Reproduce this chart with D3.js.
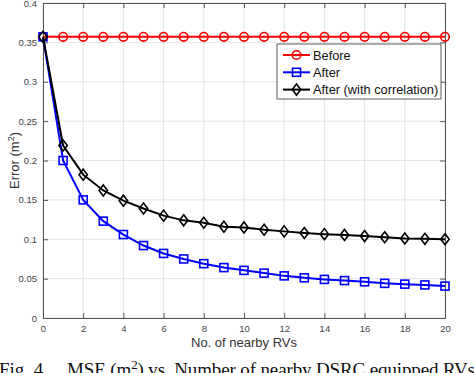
<!DOCTYPE html>
<html>
<head>
<meta charset="utf-8">
<script src="https://cdn.jsdelivr.net/npm/d3@7"></script>
<style>
  body { margin: 0; background: #fff; }
  svg { display: block; }
</style>
</head>
<body>
<div id="chart"></div>
<script>
// valores
const nearbyRVs = d3.range(0, 21);
const before = [0.357, 0.357, 0.357, 0.357, 0.357, 0.357, 0.357, 0.357, 0.357, 0.357, 0.357,
  0.357, 0.357, 0.357, 0.357, 0.357, 0.357, 0.357, 0.357, 0.357, 0.357];
const after = [0.357, 0.200, 0.150, 0.123, 0.106, 0.092, 0.082, 0.075, 0.069, 0.064, 0.0605,
  0.057, 0.0535, 0.051, 0.049, 0.0475, 0.046, 0.044, 0.043, 0.042, 0.0405];
const afterCorr = [0.357, 0.219, 0.182, 0.162, 0.149, 0.139, 0.130, 0.124, 0.121, 0.116, 0.115,
  0.112, 0.110, 0.108, 0.1065, 0.1055, 0.104, 0.1025, 0.101, 0.1005, 0.100];
const xTicks = d3.range(0, 21, 2);
const yTicks = [0, 0.05, 0.1, 0.15, 0.2, 0.25, 0.3, 0.35, 0.4];
const seriesNames = ["Before", "After", "After (with correlation)"];

const W = 474, H = 373;
const margin = {top: 3, right: 29, bottom: 55, left: 43};
const width = W - margin.left - margin.right;
const height = H - margin.top - margin.bottom;

const svg = d3.select("#chart").append("svg")
    .attr("width", W)
    .attr("height", H)
    .style("font-family", "'Liberation Sans', Arial, sans-serif");

const g = svg.append("g")
    .attr("transform", `translate(${margin.left},${margin.top})`);

const x = d3.scaleLinear().domain([0, 20]).range([0, width]);
const y = d3.scaleLinear().domain([0, 0.4]).range([height, 0]);

// grade
g.append("g").selectAll("line").data(xTicks).enter().append("line")
    .attr("x1", d => x(d)).attr("x2", d => x(d))
    .attr("y1", 0).attr("y2", height)
    .attr("stroke", "#e3e3e3").attr("stroke-width", 1);
g.append("g").selectAll("line").data(yTicks).enter().append("line")
    .attr("x1", 0).attr("x2", width)
    .attr("y1", d => y(d)).attr("y2", d => y(d))
    .attr("stroke", "#e3e3e3").attr("stroke-width", 1);

// eixos
const axColor = "#444";
const axBottom = g.append("g").attr("transform", `translate(0,${height})`)
    .call(d3.axisBottom(x).tickValues(xTicks).tickSize(-5).tickPadding(7).tickFormat(d3.format("d")));
const axLeft = g.append("g")
    .call(d3.axisLeft(y).tickValues(yTicks).tickSize(-5).tickPadding(6).tickFormat(d => d === 0 ? "0" : String(d)));
const axTop = g.append("g")
    .call(d3.axisTop(x).tickValues(xTicks).tickSize(-5).tickFormat(""));
const axRight = g.append("g").attr("transform", `translate(${width},0)`)
    .call(d3.axisRight(y).tickValues(yTicks).tickSize(-5).tickFormat(""));

[axBottom, axLeft, axTop, axRight].forEach(a => {
    a.select(".domain").attr("stroke", "#555").attr("stroke-width", 1);
    a.selectAll(".tick line").attr("stroke", "#555");
    a.selectAll("text").attr("fill", axColor).style("font-size", "9.5px");
});

// linhas
const line = d3.line().x((d, i) => x(nearbyRVs[i])).y(d => y(d));
const series = [
    {name: seriesNames[0], values: before, color: "#ff0000", marker: "circle"},
    {name: seriesNames[1], values: after, color: "#0000ff", marker: "square"},
    {name: seriesNames[2], values: afterCorr, color: "#000000", marker: "diamond"}
];

function drawMarker(sel, type, color) {
    if (type === "circle") {
        sel.append("circle").attr("r", 4.3)
            .attr("fill", "none").attr("stroke", color).attr("stroke-width", 1.6);
    } else if (type === "square") {
        sel.append("rect").attr("x", -4).attr("y", -4).attr("width", 8).attr("height", 8)
            .attr("fill", "none").attr("stroke", color).attr("stroke-width", 1.6);
    } else {
        sel.append("path").attr("d", "M0,-5.5L4.2,0L0,5.5L-4.2,0Z")
            .attr("fill", "none").attr("stroke", color).attr("stroke-width", 1.6);
    }
}

series.forEach(s => {
    g.append("path").datum(s.values)
        .attr("d", line)
        .attr("fill", "none")
        .attr("stroke", s.color)
        .attr("stroke-width", 2);
    const m = g.append("g").selectAll("g").data(s.values).enter().append("g")
        .attr("transform", (d, i) => `translate(${x(nearbyRVs[i])},${y(d)})`);
    drawMarker(m, s.marker, s.color);
});

// legenda
const lg = svg.append("g").attr("transform", "translate(277,44)");
lg.append("rect").attr("width", 164).attr("height", 55)
    .attr("fill", "#fff").attr("stroke", "#333").attr("stroke-width", 0.8);
series.forEach((s, i) => {
    const row = lg.append("g").attr("transform", `translate(0,${11 + i * 17.3})`);
    row.append("line").attr("x1", 6).attr("x2", 33).attr("y1", 0).attr("y2", 0)
        .attr("stroke", s.color).attr("stroke-width", 2);
    const mk = row.append("g").attr("transform", "translate(19.5,0)");
    drawMarker(mk, s.marker, s.color);
    row.append("text").attr("x", 36).attr("y", 4.5)
        .style("font-size", "12.8px").attr("fill", "#111").text(s.name);
});

// rótulos dos eixos
svg.append("text")
    .attr("x", margin.left + width / 2).attr("y", 347)
    .attr("text-anchor", "middle")
    .style("font-size", "13px").attr("fill", "#333")
    .text("No. of nearby RVs");

const yl = svg.append("text")
    .attr("transform", `translate(18.5,${margin.top + height / 2}) rotate(-90)`)
    .attr("text-anchor", "middle")
    .style("font-size", "13px").attr("fill", "#333");
yl.append("tspan").text("Error (m");
yl.append("tspan").attr("dy", -5).style("font-size", "9px").text("2");
yl.append("tspan").attr("dy", 5).text(")");

// legenda da figura
const capFont = "'Liberation Serif', 'Times New Roman', serif";
svg.append("text")
    .attr("x", -1).attr("y", 376)
    .style("font-family", capFont)
    .style("font-size", "19px").attr("fill", "#111")
    .text("Fig. 4.");
const cap = svg.append("text")
    .attr("x", 67).attr("y", 376)
    .attr("textLength", 408).attr("lengthAdjust", "spacing")
    .style("font-family", capFont)
    .style("font-size", "19px").attr("fill", "#111");
cap.append("tspan").text("MSE (m");
cap.append("tspan").attr("dy", -7).style("font-size", "13px").text("2");
cap.append("tspan").attr("dy", 7).text(") vs. Number of nearby DSRC equipped RVs");
</script>
</body>
</html>
